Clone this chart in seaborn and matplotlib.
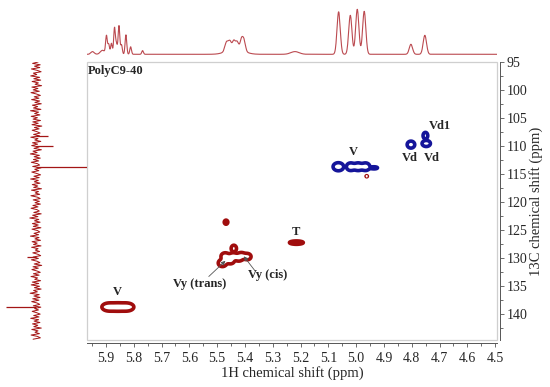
import numpy as np
import pandas as pd
import matplotlib
matplotlib.use("Agg")
import matplotlib.pyplot as plt
from matplotlib.patches import Rectangle
from matplotlib.ticker import MultipleLocator, FormatStrFormatter
import seaborn as sns

# --- 1H projection (top trace): peak list ---
h1_ppm = [5.948, 5.912, 5.898, 5.890, 5.880, 5.869, 5.862, 5.853, 5.844, 5.828, 5.811, 5.768,
          5.466, 5.454, 5.440, 5.428, 5.412, 5.403, 5.435, 5.220,
          5.063, 5.021, 4.996, 4.971, 4.803, 4.753]
h1_height = [2.7, 4.0, 18.0, 10.0, 11.0, 26.5, 10.0, 28.5, 9.5, 19.5, 7.5, 3.7,
             9.0, 7.5, 7.5, 6.5, 10.5, 10.0, 6.5, 2.7,
             42.5, 39.0, 45.0, 43.0, 10.0, 19.0]
h1_width = [0.006, 0.008, 0.003, 0.003, 0.003, 0.003, 0.003, 0.003, 0.003, 0.003, 0.003, 0.003,
            0.006, 0.005, 0.005, 0.005, 0.005, 0.005, 0.028, 0.015,
            0.0058, 0.0058, 0.0058, 0.0058, 0.006, 0.006]

# --- 13C projection (left trace) ---
c13_noise = [
    2.1, -3.4, 4.2, -1.5, 3.8, -4.6, 1.2, 5.1, -2.7, 0.8, -5.3, 3.6, -2.2, 4.7, -3.9, 2.4, -0.9, 5.6, -4.1, 1.9,
    -2.8, 3.3, -5.0, 0.6, 4.4, -1.8, 2.9, -4.4, 3.7, -1.1, 5.3, -3.6, 1.7, -2.5, 4.9, -5.5, 2.6, -1.4, 3.9, -4.8,
    1.4, -2.9, 4.5, -3.2, 2.2, -4.0, 5.8, -1.6, 3.1, -3.8, 0.9, 4.1, -2.4, 3.5, -5.2, 2.0, -1.2, 4.8, -3.5, 1.6,
    -4.3, 3.0, -2.0, 5.4, -3.0, 1.1, -5.7, 3.4, -1.9, 4.3, -2.6, 2.7, -4.7, 1.5, 3.6, -3.3, 5.0, -1.3, 2.8, -4.2,
    0.7, 4.6, -2.1, 3.2, -5.4, 2.3, -1.7, 4.0, -3.7, 1.8, -2.3, 5.5, -4.5, 2.5, -0.8, 3.7, -5.1, 1.3, 4.2, -2.8,
    3.4, -1.0, 4.4, -3.1, 2.0, -4.9, 1.0, 3.3, -2.2, 5.2, -3.4, 1.9, -6.2, 2.8, -1.5, 4.1, -3.6, 2.2, -2.7, 4.9,
    -4.0, 1.5, 3.8, -2.0, 2.6, -5.6, 3.0, -1.1, 4.5, -3.9, 1.2, -2.5, 5.0, -4.4, 2.1, -0.7, 3.6, -3.2, 1.7, 4.7,
    -2.9, 2.4, -4.6, 1.0, 3.9, -1.8, 5.7, -3.0, 2.3, -4.1, 0.9, 4.3, -2.6, 3.1, -5.0, 1.6, -1.3, 4.6, -3.7, 2.7,
    -4.8, 3.5, -1.6, 5.1, -2.4, 1.4, -5.9, 3.2, -2.1, 4.0, -3.3, 2.9, -4.3, 1.1, 3.7, -2.7, 4.8, -1.4, 2.5, -3.8,
    0.8, 4.2, -2.3, 3.0, -5.3, 2.6, -1.9, 3.9, -3.5, 1.8, -2.2, 5.3, -4.2, 2.0, -1.0, 3.4, -4.9, 1.5, 4.4, -2.9,
]
c13_spike_ppm = [108.2, 110.0, 113.8, 129.8, 138.75]
c13_spike_amp = [12, 17, 51, -9, -30]

# --- HSQC cross peaks (1H ppm, 13C ppm, amplitude, widths, contour group) ---
xp_h = [5.064,
        5.020, 4.993, 4.966, 4.935,
        4.803, 4.748, 4.751,
        4.962,
        5.468, 5.215,
        5.890, 5.857, 5.824,
        5.481, 5.471, 5.442, 5.413, 5.391, 5.452, 5.422,
        5.440]
xp_c = [113.7,
        113.7, 113.7, 113.7, 113.9,
        109.75, 109.55, 108.15,
        115.4,
        123.6, 127.25,
        138.75, 138.75, 138.75,
        130.9, 129.7, 129.6, 129.55, 129.75, 130.55, 130.05,
        128.3]
xp_amp = [7.4,
          3.1, 3.1, 3.1, 2.0,
          7.4, 7.4, 7.4,
          2.0,
          7.4, 7.4,
          3.2, 3.2, 3.2,
          3.5, 3.5, 3.0, 3.0, 3.2, 2.5, 2.5,
          7.4]
xp_wh = [0.0095,
         0.010, 0.010, 0.010, 0.010,
         0.0068, 0.0075, 0.0042,
         0.002,
         0.0032, 0.0125,
         0.016, 0.016, 0.016,
         0.0095, 0.0095, 0.0095, 0.0095, 0.0085, 0.0095, 0.0095,
         0.0048]
xp_wc = [0.36,
         0.45, 0.45, 0.45, 0.16,
         0.31, 0.27, 0.29,
         0.08,
         0.18, 0.15,
         0.46, 0.46, 0.46,
         0.40, 0.40, 0.36, 0.36, 0.36, 0.36, 0.36,
         0.29]
xp_group = ["V_ring", "V_loop", "V_loop", "V_loop", "V_loop",
            "Vd_a", "Vd_b", "Vd1", "dot_b",
            "dot_r", "T", "V_r", "V_r", "V_r",
            "Vy", "Vy", "Vy", "Vy", "Vy", "Vy", "Vy", "Vy_top"]
xp_color = ["blue"] * 8 + ["red"] * 14

# --- annotations ---
lab_text = ["V", "Vd1", "Vd", "Vd", "T", "V", "Vy (trans)", "Vy (cis)"]
lab_h = [5.0115, 4.699, 4.806, 4.727, 5.217, 5.860, 5.562, 5.317]
lab_c = [111.07, 106.43, 112.14, 112.14, 125.36, 136.07, 134.6, 133.0]

arrow_from_h = [5.530, 5.362]
arrow_from_c = [133.3, 132.4]
arrow_to_h = [5.470, 5.404]
arrow_to_c = [130.5, 129.7]

x_lim = (5.968, 4.4935)
y_lim = (144.64, 95.0)
colors = {"blue": "#15159a", "red": "#a00d0d"}

sns.set_theme(style="white")
plt.rcParams["font.family"] = ["Liberation Serif", "DejaVu Serif"]

fig = plt.figure(figsize=(5.5, 3.87), dpi=100)
W, H = 550, 387
ax = fig.add_axes([87 / W, 1 - 340 / H, 410 / W, 278 / H])
ax_top = fig.add_axes([87 / W, 1 - 58 / H, 410 / W, 56 / H])
ax_left = fig.add_axes([0, 1 - 340 / H, 87 / W, 278 / H])

# top 1H trace
ppm_h = np.linspace(x_lim[0], x_lim[1], 2000)
spec_h = np.zeros_like(ppm_h)
for p, a, w in zip(h1_ppm, h1_height, h1_width):
    spec_h += a * np.exp(-0.5 * ((ppm_h - p) / w) ** 2)
sns.lineplot(x=ppm_h, y=spec_h, ax=ax_top, color="#bb4a50", linewidth=0.8)
ax_top.set_xlim(x_lim)
ax_top.set_ylim(-3.7, 52.3)
ax_top.axis("off")

# left 13C trace
ppm_c = np.linspace(95.0, 144.5, len(c13_noise))
ax_left.plot(c13_noise, ppm_c, color="#a31515", linewidth=0.7)
ax_left.hlines(c13_spike_ppm, 0, c13_spike_amp, color="#a31515", linewidth=0.9)
ax_left.set_xlim(-36, 51)
ax_left.set_ylim(y_lim)
ax_left.axis("off")

# 2D contours
peaks = pd.DataFrame({"h": xp_h, "c": xp_c, "amp": xp_amp, "wh": xp_wh,
                      "wc": xp_wc, "group": xp_group, "color": xp_color})
gx = np.linspace(x_lim[0], x_lim[1], 1400)
gy = np.linspace(y_lim[1], y_lim[0], 700)
X, Y = np.meshgrid(gx, gy)
for grp, sub in peaks.groupby("group", sort=False):
    Z = np.zeros_like(X)
    for _, r in sub.iterrows():
        Z += r["amp"] * np.exp(-0.5 * ((X - r["h"]) / r["wh"]) ** 2
                               - 0.5 * ((Y - r["c"]) / r["wc"]) ** 2)
    ax.contour(X, Y, Z, levels=[1.0], colors=colors[sub["color"].iloc[0]],
               linewidths=2.6)

ax.set_xlim(x_lim)
ax.set_ylim(y_lim)

for t, hx, cy in zip(lab_text, lab_h, lab_c):
    ax.text(hx, cy, t, ha="center", va="center", fontsize=9, fontweight="bold")
for fh, fc, th, tc in zip(arrow_from_h, arrow_from_c, arrow_to_h, arrow_to_c):
    ax.annotate("", xy=(th, tc), xytext=(fh, fc),
                arrowprops=dict(arrowstyle="-|>", color="#555555", lw=0.6,
                                mutation_scale=6, shrinkA=0, shrinkB=0))
ax.text(0.003, 0.968, "PolyC9-40", transform=ax.transAxes, ha="left", va="center",
        fontsize=9, fontweight="bold")

# frame and axes
ax.add_patch(Rectangle((0, 0), 1, 1, transform=ax.transAxes, fill=False,
                       edgecolor="#cfcfcf", linewidth=0.9, clip_on=False))
for s in ["top", "left"]:
    ax.spines[s].set_visible(False)
for s in ["bottom", "right"]:
    ax.spines[s].set_position(("outward", 2.5))
    ax.spines[s].set_color("#555555")
    ax.spines[s].set_linewidth(0.7)
ax.yaxis.tick_right()
ax.yaxis.set_label_position("right")
ax.xaxis.set_major_locator(MultipleLocator(0.1))
ax.xaxis.set_minor_locator(MultipleLocator(0.05))
ax.xaxis.set_major_formatter(FormatStrFormatter("%.1f"))
ax.yaxis.set_major_locator(MultipleLocator(5))
ax.yaxis.set_minor_locator(MultipleLocator(2.5))
ax.tick_params(which="both", direction="out", color="#555555", width=0.6,
               labelsize=10, pad=3, bottom=True, right=True, left=False)
ax.tick_params(axis="y", which="both", pad=1.5)
ax.tick_params(which="major", length=3)
ax.tick_params(which="minor", length=2)
ax.set_xlabel("1H chemical shift (ppm)", fontsize=10.5, labelpad=1)
ax.set_ylabel("13C chemical shift (ppm)", fontsize=10.5, labelpad=1)
ax.grid(False)

fig.savefig("out.png", dpi=100)
